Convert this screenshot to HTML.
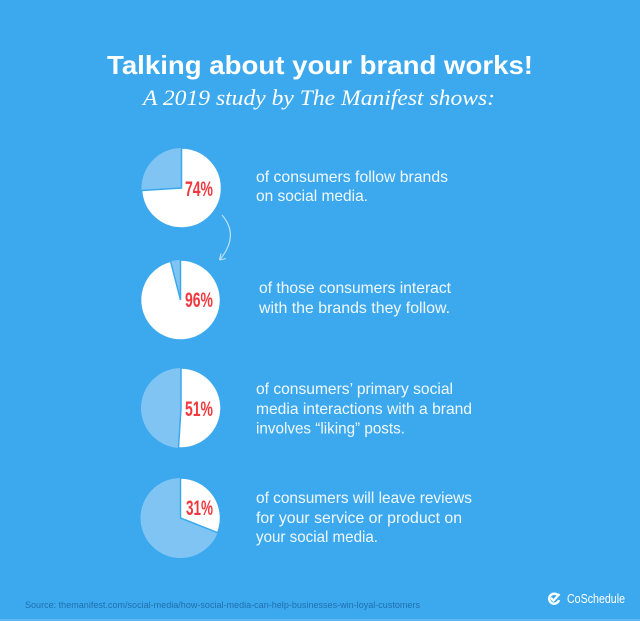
<!DOCTYPE html>
<html><head><meta charset="utf-8"><style>
html,body{margin:0;padding:0;background:#3ca9ee;}
svg{display:block;}
</style></head><body>
<svg width="640" height="621" viewBox="0 0 640 621" xmlns="http://www.w3.org/2000/svg">
<rect width="640" height="621" fill="#3ca9ee"/>
<rect y="619" width="640" height="2" fill="#5cb7f1"/>

<text x="107" y="74" font-family="Liberation Sans, sans-serif" font-weight="bold" font-size="26" fill="#fff" textLength="426" lengthAdjust="spacingAndGlyphs">Talking about your brand works!</text>
<text x="143" y="105" font-family="Liberation Serif, serif" font-style="italic" font-size="22" fill="#fff" textLength="352" lengthAdjust="spacingAndGlyphs">A 2019 study by The Manifest shows:</text>

<!-- pies -->
<g>
<circle cx="181.5" cy="188" r="40" fill="#80c4f3"/>
<path d="M181.5,188 L181.5,148 A40,40 0 1,1 141.58,190.51 Z" fill="#fff" stroke="#3ca9ee" stroke-width="1.5"/>
<circle cx="180.5" cy="300" r="40" fill="#80c4f3"/>
<path d="M180.5,300 L180.5,260 A40,40 0 1,1 170.55,261.26 Z" fill="#fff" stroke="#3ca9ee" stroke-width="1.5"/>
<circle cx="181" cy="408" r="40" fill="#80c4f3"/>
<path d="M181,408 L181,368 A40,40 0 1,1 178.49,447.92 Z" fill="#fff" stroke="#3ca9ee" stroke-width="1.5"/>
<circle cx="180.5" cy="518" r="40" fill="#80c4f3"/>
<path d="M180.5,518 L180.5,478 A40,40 0 0,1 217.69,532.72 Z" fill="#fff" stroke="#3ca9ee" stroke-width="1.5"/>
</g>

<g font-family="Liberation Sans, sans-serif" font-weight="bold" font-size="21" fill="#f0393f">
<text x="185" y="196" textLength="28" lengthAdjust="spacingAndGlyphs">74%</text>
<text x="185" y="307" textLength="28" lengthAdjust="spacingAndGlyphs">96%</text>
<text x="185" y="416" textLength="28" lengthAdjust="spacingAndGlyphs">51%</text>
<text x="186" y="515" textLength="27" lengthAdjust="spacingAndGlyphs">31%</text>
</g>

<!-- arrow -->
<path d="M222,215 Q240,236 219.5,260" fill="none" stroke="#c4e3f9" stroke-width="1.1"/>
<path d="M219.5,260 L221,253.5 M219.5,260 L226,258.5" fill="none" stroke="#c4e3f9" stroke-width="1.1"/>

<g font-family="Liberation Sans, sans-serif" font-size="15.8" fill="#f2f9ff">
<text x="256" y="182" textLength="192" lengthAdjust="spacingAndGlyphs">of consumers follow brands</text>
<text x="256" y="201" textLength="112" lengthAdjust="spacingAndGlyphs">on social media.</text>
<text x="259" y="293" textLength="192" lengthAdjust="spacingAndGlyphs">of those consumers interact</text>
<text x="259" y="313" textLength="191" lengthAdjust="spacingAndGlyphs">with the brands they follow.</text>
<text x="256" y="394" textLength="197" lengthAdjust="spacingAndGlyphs">of consumers’ primary social</text>
<text x="256" y="414" textLength="216" lengthAdjust="spacingAndGlyphs">media interactions with a brand</text>
<text x="256" y="433.5" textLength="149" lengthAdjust="spacingAndGlyphs">involves “liking” posts.</text>
<text x="256" y="503" textLength="216" lengthAdjust="spacingAndGlyphs">of consumers will leave reviews</text>
<text x="256" y="523" textLength="206" lengthAdjust="spacingAndGlyphs">for your service or product on</text>
<text x="256" y="542" textLength="122" lengthAdjust="spacingAndGlyphs">your social media.</text>
</g>

<text x="25" y="608" font-family="Liberation Sans, sans-serif" font-size="9" fill="#1f6fae" textLength="395" lengthAdjust="spacingAndGlyphs">Source: themanifest.com/social-media/how-social-media-can-help-businesses-win-loyal-customers</text>

<!-- CoSchedule logo -->
<g>
<path d="M558,595.5 A5,5 0 1,0 559,600" fill="none" stroke="#fff" stroke-width="2.4"/>
<path d="M550.8,597.8 L553.5,600.5 L559.5,594" fill="none" stroke="#fff" stroke-width="2.2"/>
</g>
<text x="567" y="603" font-family="Liberation Sans, sans-serif" font-size="12.5" fill="#fff" textLength="58" lengthAdjust="spacingAndGlyphs">CoSchedule</text>
</svg>
</body></html>
